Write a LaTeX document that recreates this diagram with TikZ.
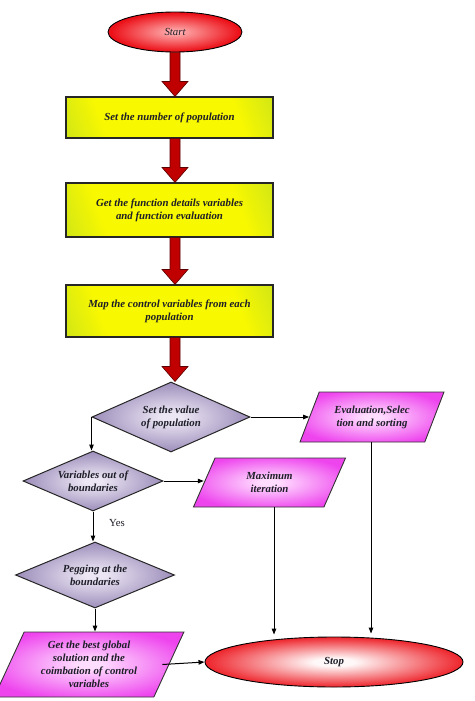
\documentclass[tikz,border=0pt]{standalone}
\usepackage{fontspec}
\setmainfont{Liberation Serif}
\usetikzlibrary{shapes.geometric,arrows.meta,calc}
\definecolor{ygg}{HTML}{9ACC36}
\definecolor{ygy}{HTML}{F8F800}
\definecolor{rcore}{HTML}{FFF8F8}
\definecolor{rcoreb}{HTML}{FFB8B8}
\definecolor{rout}{HTML}{EC1018}
\definecolor{pcore}{HTML}{ECE6F4}
\definecolor{pout}{HTML}{8A79AD}
\definecolor{mcore}{HTML}{FFDDFF}
\definecolor{mout}{HTML}{EE44EE}
\definecolor{arrred}{HTML}{C00000}
\definecolor{arrdark}{HTML}{5A0000}
\definecolor{ink}{HTML}{1E1E28}
\pgfdeclarehorizontalshading{ygshade}{100bp}{color(0bp)=(ygg); color(30bp)=(ygy); color(70bp)=(ygy); color(100bp)=(ygg)}
\pgfdeclareradialshading{redrad}{\pgfpoint{0bp}{0bp}}{color(0bp)=(rcore); color(4bp)=(rcore); color(27bp)=(rout); color(50bp)=(rout)}
\pgfdeclareradialshading{redradb}{\pgfpoint{0bp}{0bp}}{color(0bp)=(rcoreb); color(24bp)=(rout); color(50bp)=(rout)}
\pgfdeclareradialshading{purrad}{\pgfpoint{0bp}{0bp}}{color(0bp)=(pcore); color(3bp)=(pcore); color(30bp)=(pout); color(50bp)=(pout)}
\pgfdeclareradialshading{magrad}{\pgfpoint{0bp}{0bp}}{color(0bp)=(mcore); color(3bp)=(mcore); color(28bp)=(mout); color(50bp)=(mout)}
\tikzset{
  lbl/.style={font=\fontsize{10.8}{13}\selectfont\bfseries\itshape, text=ink, align=center},
  oval/.style={ellipse, draw=black, line width=0.9pt, shade, shading=redrad, inner sep=0pt},
  procbox/.style={rectangle, draw=black!85, line width=1.1pt, shade, shading=ygshade, shading angle=20, inner sep=0pt, lbl},
  decide/.style={diamond, draw=black!85, line width=1pt, shade, shading=purrad, inner sep=0pt, lbl},
  iobox/.style={trapezium, trapezium stretches=true, draw=black!80, line width=0.9pt, shade, shading=magrad, inner sep=0pt, lbl},
  fatarr/.style={fill=arrred, draw=arrdark, line width=0.6pt},
  conn/.style={draw=black, line width=1pt, -{Triangle[length=6pt,width=4.5pt]}},
  plain/.style={draw=black, line width=1pt}
}
\newcommand\fatarrow[2]{%
  \filldraw[fatarr] ($(ax |- #1.south)+(-5,0)$) -- ($(ax |- #2.north)+(-5,-15)$) -- ++(-8,0)
   -- (ax |- #2.north) -- ($(ax |- #2.north)+(13,-15)$) -- ++(-8,0)
   -- ($(ax |- #1.south)+(5,0)$) -- cycle;}
\begin{document}
\begin{tikzpicture}[x=1pt,y=-1pt]
\clip (0,0) rectangle (474,701);
\fill[white] (0,0) rectangle (474,701);
\coordinate (ax) at (175,0);
% nodes
\node[oval, shading=redradb, minimum width=134pt, minimum height=40pt,
      font=\fontsize{10.8}{13}\selectfont\itshape, text=ink] (start) at (175,32) {Start};
\node[procbox, minimum width=207pt, minimum height=41pt] (b1) at (169.5,117.5) {Set the number of population};
\node[procbox, minimum width=207pt, minimum height=54pt] (b2) at (169.5,210) {Get the function details variables\\and function evaluation};
\node[procbox, minimum width=207pt, minimum height=52pt] (b3) at (169.5,311) {Map the control variables from each\\population};
\node[decide, minimum width=158pt, minimum height=70pt, aspect=2.26] (d1) at (171,417) {Set the value\\of population};
\node[iobox, trapezium left angle=59, trapezium right angle=121, minimum width=144pt, minimum height=50pt] (ev) at (372,417) {Evaluation,Selec\\tion and sorting};
\node[decide, minimum width=140pt, minimum height=60pt, aspect=2.33] (d2) at (93,481) {Variables out of\\boundaries};
\node[iobox, trapezium left angle=66, trapezium right angle=114, minimum width=153pt, minimum height=49pt] (mx) at (269.5,482.5) {Maximum\\iteration};
\node[font=\fontsize{10.8}{13}\selectfont, text=ink] (yes) at (117,523) {Yes};
\node[decide, minimum width=159pt, minimum height=66pt, aspect=2.4] (d3) at (95,575) {Pegging at the\\boundaries};
\node[iobox, trapezium left angle=64.5, trapezium right angle=115.5, minimum width=190pt, minimum height=65pt] (gb) at (89,664.5) {Get the best global\\solution and the\\coimbation of control\\variables};
\node[oval, minimum width=258pt, minimum height=50pt, lbl] (stop) at (334,662) {Stop};
% fat arrows
\fatarrow{start}{b1}
\fatarrow{b1}{b2}
\fatarrow{b2}{b3}
\fatarrow{b3}{d1}
% connectors
\draw[conn] (d1.east) -- (d1.east -| ev.west);
\draw[conn] (d1.west) -- (d1.west |- d2.north);
\draw[conn] (d2.east) -- (d2.east -| mx.west);
\draw[conn] (d2.south) -- (d2.south |- d3.north);
\draw[conn] (d3.south) -- (d3.south |- gb.north);
\draw[conn] ($(gb.east)+(-7,0)$) -- (stop.west);
\draw[conn] ($(mx.south)+(4.5,0)$) -- ($(mx.south |- stop.north)+(4.5,-2)$);
\draw[conn] ($(ev.south)+(-1,0)$) -- ($(ev.south |- stop.north)+(-1,-3)$);
\end{tikzpicture}
\end{document}
